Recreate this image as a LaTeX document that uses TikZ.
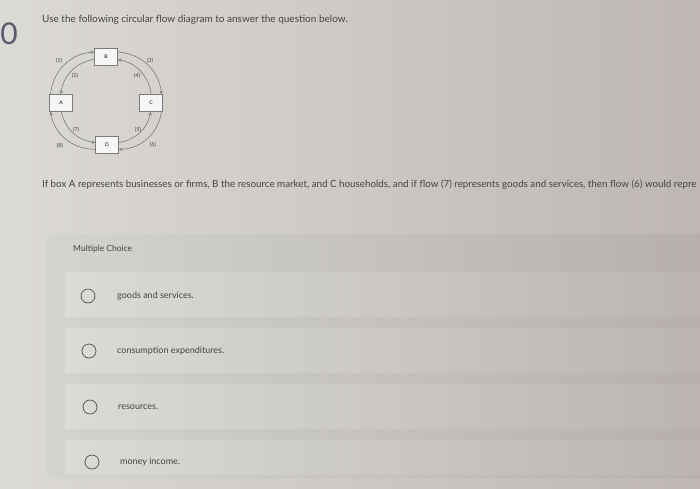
\documentclass[tikz,border=0pt]{standalone}
\usepackage{fontspec}
\setmainfont{Lato}
\usetikzlibrary{arrows}
\definecolor{inkgray}{HTML}{444444}
\definecolor{linegray}{HTML}{7A7A7A}
\definecolor{bgleft}{HTML}{DCDAD4}
\definecolor{bgright}{HTML}{BEB7B4}
\definecolor{panelleft}{HTML}{D3D4D0}
\definecolor{panelright}{HTML}{B6AFAD}
\definecolor{rowleft}{HTML}{DADBD7}
\definecolor{rowright}{HTML}{BBB4B2}

\begin{document}
\begin{tikzpicture}[x=1pt, y=-1pt, >=stealth,
    box/.style={draw=linegray, fill=white!92!gray, line width=0.6pt, minimum width=23pt, minimum height=17pt, inner sep=0pt, font=\bfseries\fontsize{5}{6}\selectfont, text=inkgray},
    flow/.style={->, draw=linegray, line width=0.6pt},
    lbl/.style={font=\fontsize{5.5}{6}\selectfont, text=inkgray, inner sep=0pt},
    choice/.style={anchor=west, font=\fontsize{9}{11}\selectfont, text=inkgray, inner sep=0pt},
    radio/.style={circle, draw=black!65, line width=0.8pt, minimum size=14pt, inner sep=0pt}]
        % Page and background
        \useasboundingbox (0,0) rectangle (700,488);
        \clip (0,0) rectangle (700,488);
        \shade[left color=bgleft, right color=bgright] (0,0) rectangle (700,488);

        % Big digit at the left edge
        \node[font=\fontsize{30}{30}\selectfont, text=black!70!blue!30!gray] (digit) at (9,34) {0};

        % Header and question
        \node[anchor=west, font=\fontsize{10}{12}\selectfont, text=inkgray, inner sep=0pt] (head) at (42,20) {Use the following circular flow diagram to answer the question below.};
        \node[anchor=west, font=\fontsize{9.8}{12}\selectfont, text=inkgray, inner sep=0pt] (question) at (42,185) {If box A represents businesses or firms, B the resource market, and C households, and if flow (7) represents goods and services, then flow (6) would repre};

        % Boxes of the circular flow
        \node[box] (A) at (61,103) {A};
        \node[box] (B) at (106,57) {B};
        \node[box] (C) at (151,103) {C};
        \node[box] (D) at (107,145) {D};

        % Flows
        \draw[flow] (A.140) to[bend left=40] (B.157);
        \draw[flow] (B.190) to[bend right=35] (A.92);
        \draw[flow] (B.23) to[bend left=40] (C.40);
        \draw[flow] (C.88) to[bend right=35] (B.-12);
        \draw[flow] (D.12) to[bend right=35] (C.-92);
        \draw[flow] (C.-40) to[bend left=40] (D.-20);
        \draw[flow] (A.-88) to[bend right=35] (D.168);
        \draw[flow] (D.-160) to[bend left=40] (A.-140);

        % Flow numbers
        \node[lbl] (n1) at (59,61) {(1)};
        \node[lbl] (n2) at (75,76) {(2)};
        \node[lbl] (n3) at (150,61) {(3)};
        \node[lbl] (n4) at (137,76) {(4)};
        \node[lbl] (n5) at (138,130) {(5)};
        \node[lbl] (n6) at (153,145) {(6)};
        \node[lbl] (n7) at (76,130) {(7)};
        \node[lbl] (n8) at (60,146) {(8)};

        % Multiple choice panel
        \shade[left color=panelleft, right color=panelright] (47,234) rectangle (700,477);
        \node[anchor=west, font=\fontsize{8.5}{10}\selectfont, text=inkgray, inner sep=0pt] (mc) at (73,249) {Multiple Choice};
        \foreach \y in {272,328,384} {
            \shade[left color=rowleft, right color=rowright] (65,\y) rectangle (700,\y+44);
        }
        \shade[left color=rowleft, right color=rowright] (65,440) rectangle (700,474);

        % Options
        \node[radio] (r1) at (88,296) {};
        \node[choice] (o1) at (117,296) {goods and services.};
        \node[radio] (r2) at (89,351) {};
        \node[choice] (o2) at (117,351) {consumption expenditures.};
        \node[radio] (r3) at (90,407) {};
        \node[choice] (o3) at (118,407) {resources.};
        \node[radio] (r4) at (92,462) {};
        \node[choice] (o4) at (120,462) {money income.};
\end{tikzpicture}
\end{document}
